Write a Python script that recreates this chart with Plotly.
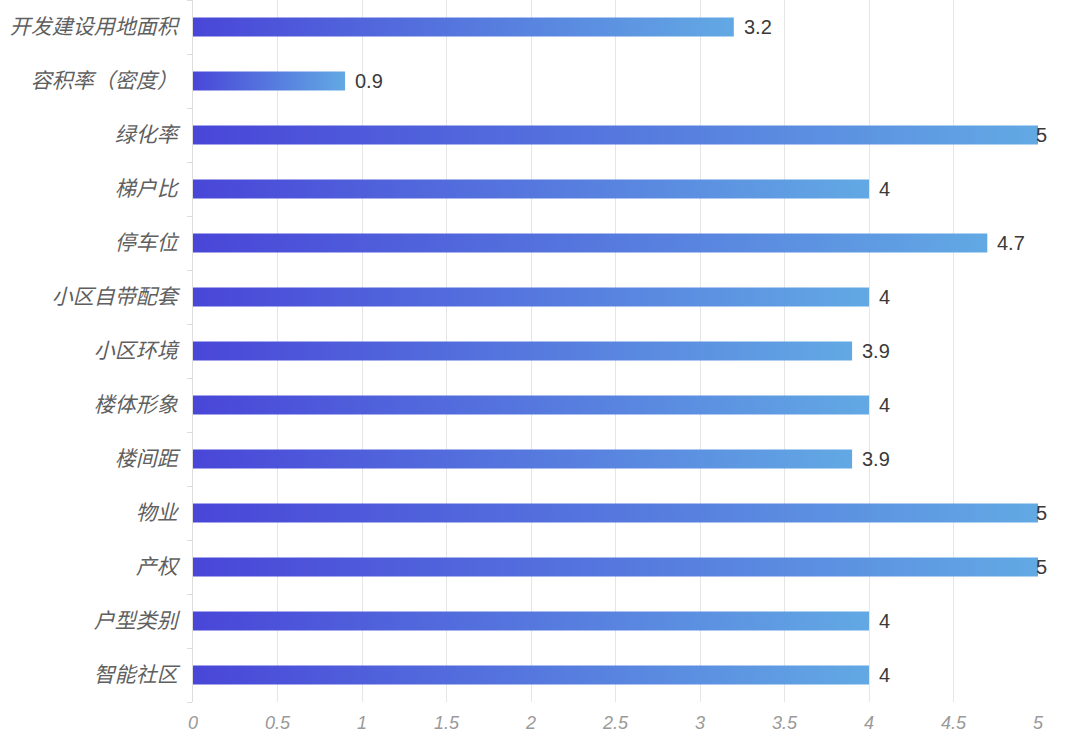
import plotly.graph_objects as go

categories = ["开发建设用地面积", "容积率（密度）", "绿化率", "梯户比", "停车位", "小区自带配套",
              "小区环境", "楼体形象", "楼间距", "物业", "产权", "户型类别", "智能社区"]
values = [3.2, 0.9, 5, 4, 4.7, 4, 3.9, 4, 3.9, 5, 5, 4, 4]
x_ticks = [0, 0.5, 1, 1.5, 2, 2.5, 3, 3.5, 4, 4.5, 5]

COLOR_START = "#4946d8"
COLOR_END = "#62a9e4"
HALF = 0.175
XMAX = 5

fig = go.Figure()
for i, (cat, v) in enumerate(zip(categories, values)):
    fig.add_trace(go.Scatter(
        x=[0, v, v, 0, 0],
        y=[i - HALF, i - HALF, i + HALF, i + HALF, i - HALF],
        mode="lines",
        line=dict(width=0),
        fill="toself",
        fillgradient=dict(type="horizontal",
                          colorscale=[[0, COLOR_START], [1, COLOR_END]]),
        hoverinfo="text",
        text=f"{cat}: {v}",
        showlegend=False,
    ))
    fig.add_annotation(
        x=v, y=i, xref="x", yref="y",
        text=str(v if v % 1 else int(v)),
        showarrow=False, xanchor="left",
        xshift=8 if v < XMAX else -4,
        font=dict(family="Liberation Sans, Arial, sans-serif", size=20, color="#3a3a3a"),
    )

fig.update_layout(
    width=1080, height=737,
    margin=dict(l=193, r=42, t=0, b=35),
    plot_bgcolor="white", paper_bgcolor="white",
    xaxis=dict(
        range=[0, XMAX], tickvals=x_ticks,
        ticktext=[str(t) for t in x_ticks],
        showgrid=True, gridcolor="#e6e6e6", gridwidth=1,
        zeroline=False, showline=False, ticks="",
        ticklabelstandoff=8,
        tickfont=dict(family="Liberation Sans, Arial, sans-serif", size=18, color="#9a9a9a", style="italic"),
        fixedrange=True,
    ),
    yaxis=dict(
        range=[len(categories) - 0.5, -0.5],
        tickvals=list(range(len(categories))), ticktext=categories,
        showgrid=False, zeroline=False,
        showline=True, linecolor="#dddddd", linewidth=1,
        ticks="", ticklabelstandoff=10,
        minor=dict(tickvals=[i - 0.5 for i in range(len(categories) + 1)],
                   ticks="outside", ticklen=5, tickcolor="#dddddd", showgrid=False),
        tickfont=dict(family="Noto Sans CJK SC, sans-serif", size=21, color="#5f5f5f", style="italic"),
        fixedrange=True,
    ),
)

fig.write_html("out.html")
